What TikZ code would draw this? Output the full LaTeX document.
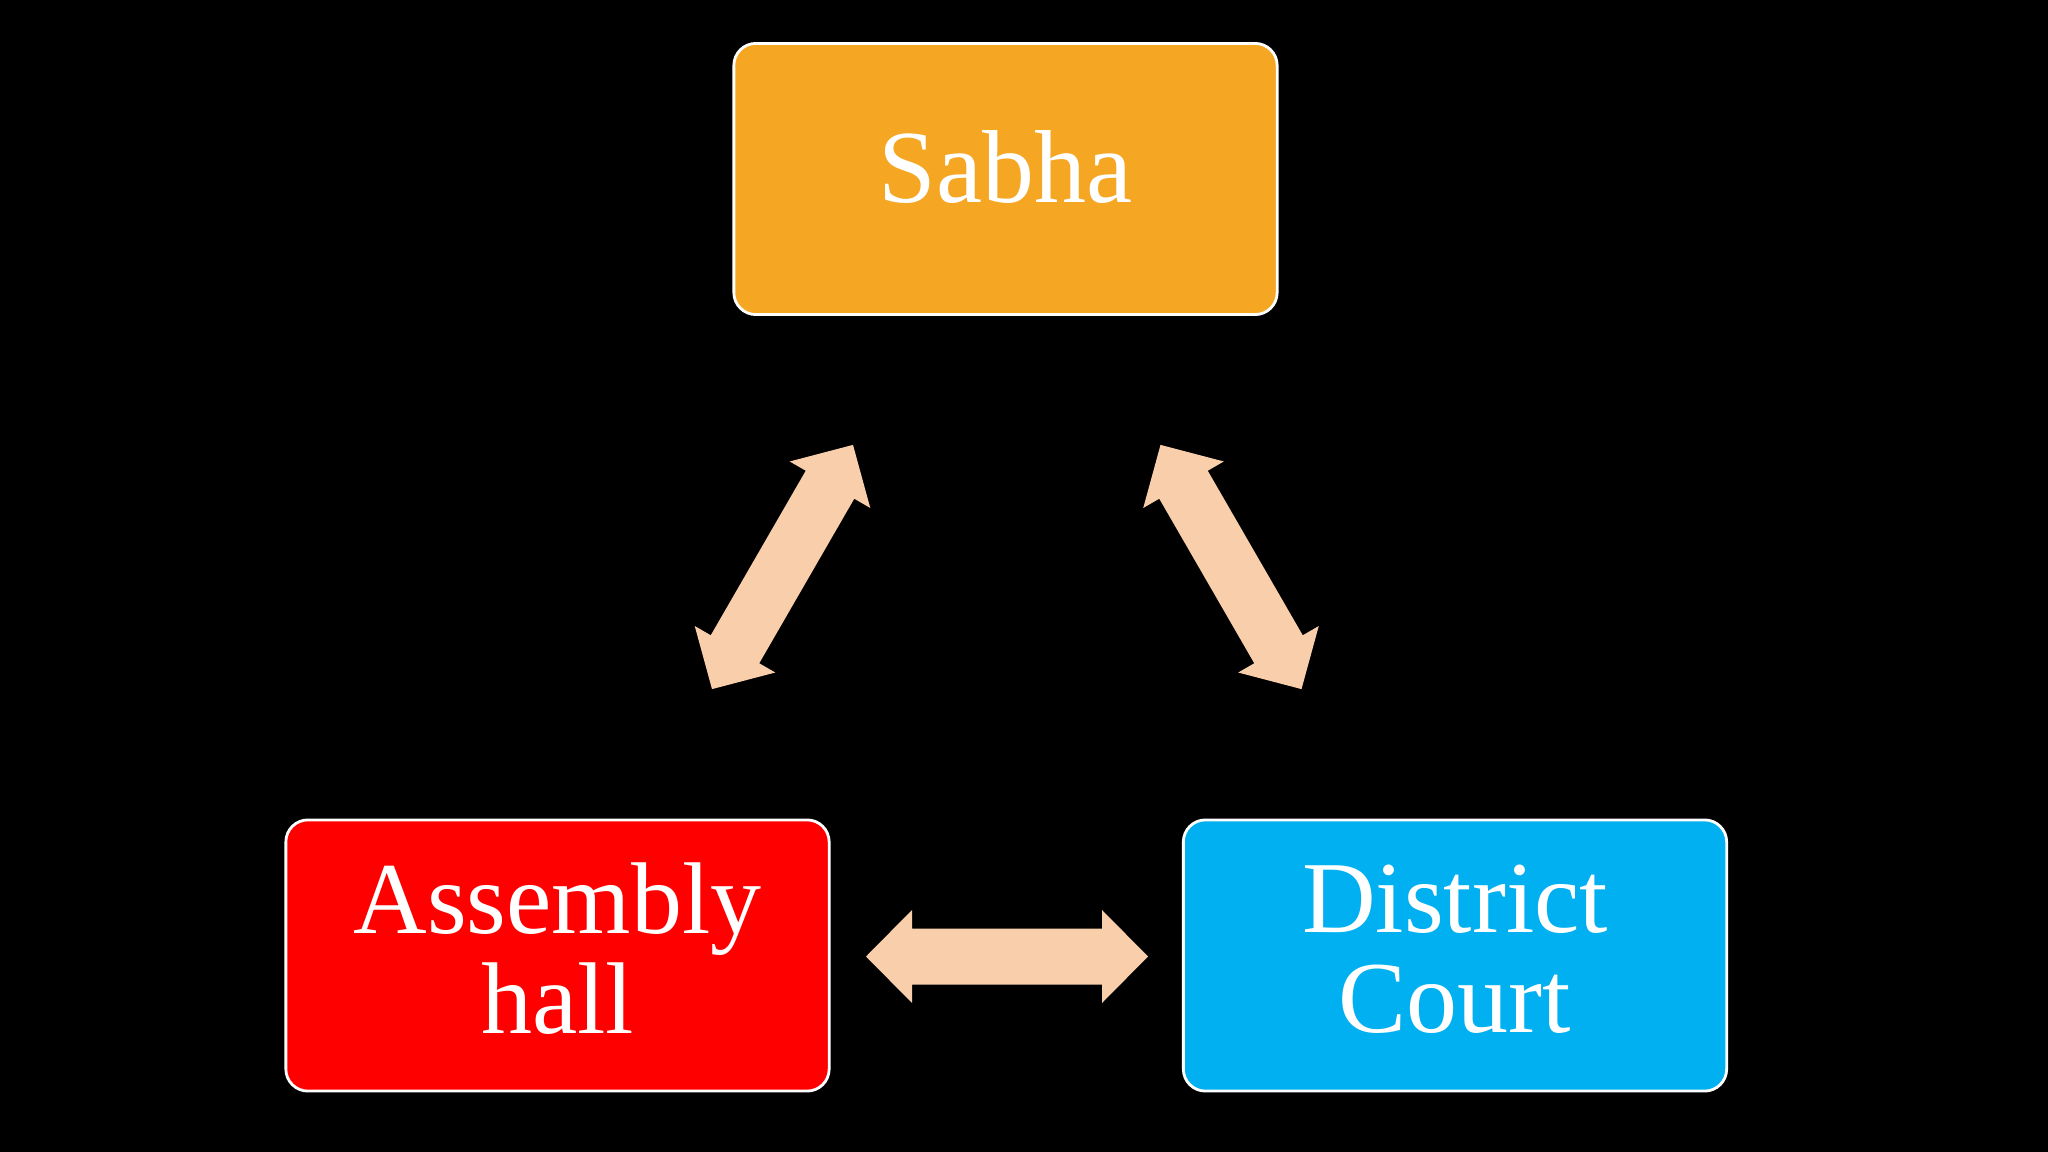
\documentclass[tikz,border=0pt]{standalone}
\usepackage{fontspec}
\setmainfont{Liberation Serif}
\definecolor{sabhaorange}{HTML}{F5A623}
\definecolor{hallred}{HTML}{FF0000}
\definecolor{courtblue}{HTML}{00B0F0}
\definecolor{peach}{HTML}{F8CFAA}
\begin{document}
\begin{tikzpicture}[x=0.01cm,y=-0.01cm,
  box/.style={rectangle, rounded corners=0.22cm, draw=white, line width=0.8pt,
    minimum width=5.43cm, minimum height=2.71cm, inner sep=0pt},
  lbl/.style={text=white, align=center, inner sep=0pt, anchor=base,
    font=\fontsize{29}{28.4}\selectfont},
  dblarrow/.style={fill=peach, draw=none}]
\fill[black] (0,0) rectangle (2048,1152);
\useasboundingbox (0,0) rectangle (2048,1152);
\node[box, fill=sabhaorange] (sabha) at (1005.5,179) {};
\node[box, fill=hallred] (hall) at (557.5,955.5) {};
\node[box, fill=courtblue] (court) at (1455,955.5) {};
\node[lbl, font=\fontsize{29.5}{28.4}\selectfont] (sabhat) at (1005.5,203) {Sabha};
\node[lbl] (hallt) at (557.5,1033) {Assembly\\hall};
\node[lbl] (courtt) at (1455,1032) {District\\Court};
\coordinate (lmid) at (782.5,567);
\coordinate (rmid) at (1231,567);
\coordinate (bmid) at (1007,956.5);
\foreach \c/\a in {lmid/60, rmid/-60, bmid/0}{
  \begin{scope}[shift={(\c)}, rotate=\a]
    \fill[dblarrow] (-141,0) -- (-95,46.5) -- (-95,28) -- (95,28) -- (95,46.5)
      -- (141,0) -- (95,-46.5) -- (95,-28) -- (-95,-28) -- (-95,-46.5) -- cycle;
  \end{scope}
}
\end{tikzpicture}
\end{document}
